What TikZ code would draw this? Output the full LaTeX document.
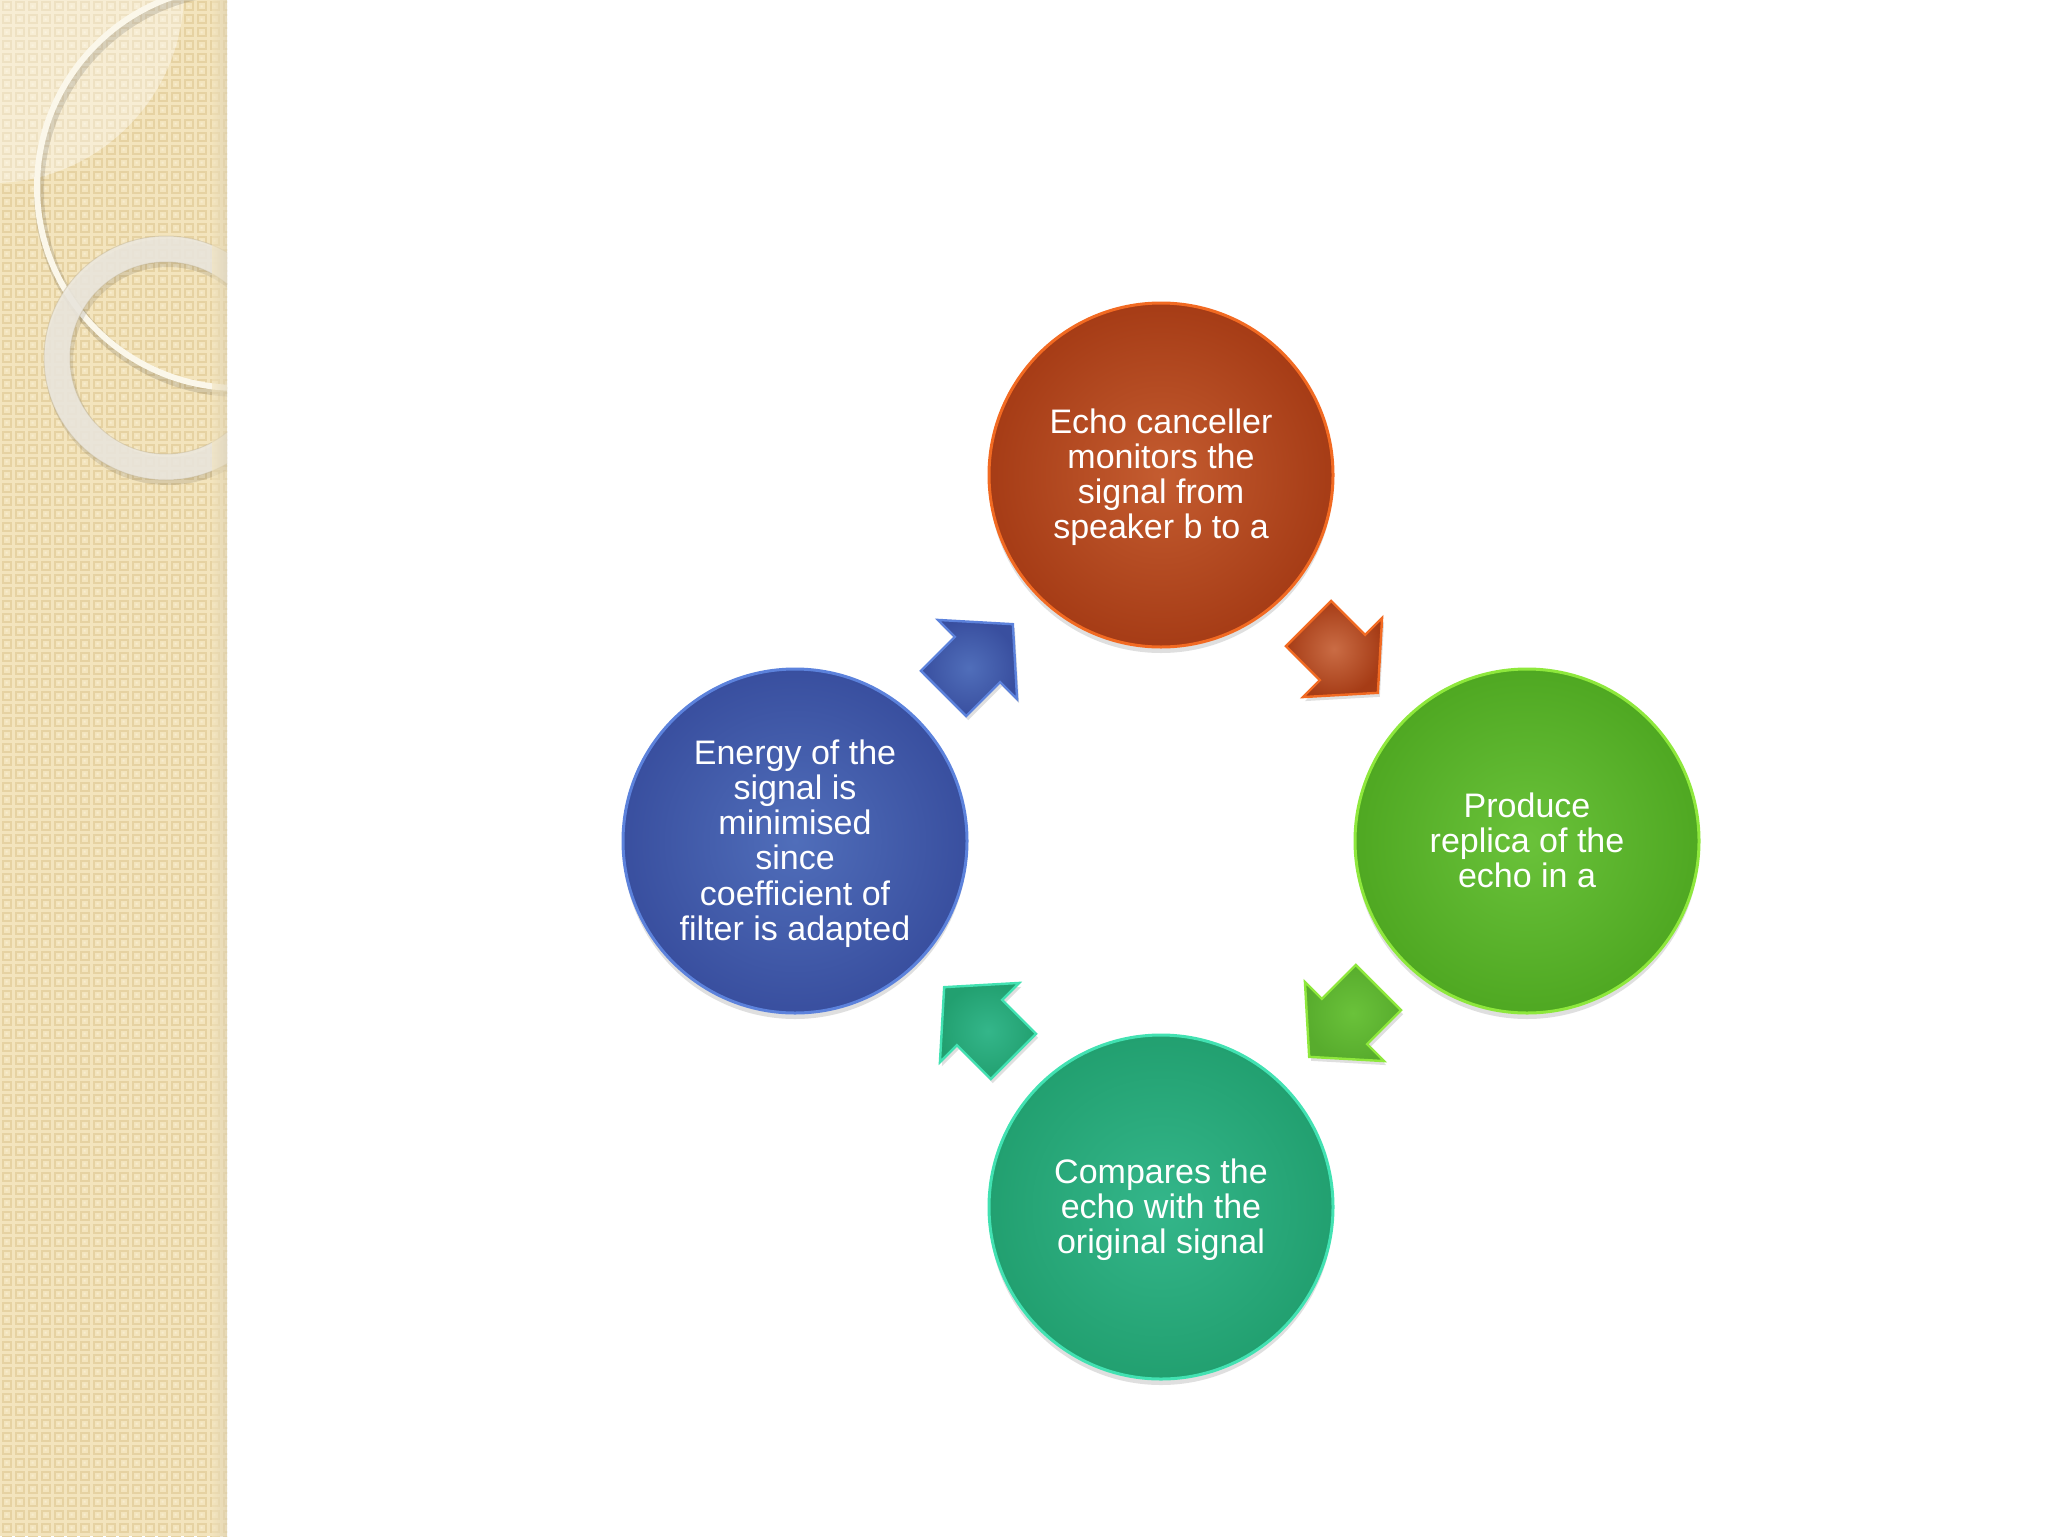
\documentclass[tikz,border=0pt]{standalone}
\usepackage{fontspec}
\setmainfont{Liberation Sans}
\usetikzlibrary{shadows}
\definecolor{sideA}{HTML}{F3E4BD}
\definecolor{sideB}{HTML}{E6D2A2}
\definecolor{sideC}{HTML}{F8EDCF}
\definecolor{ringT}{HTML}{FBF7EA}
\definecolor{ringK}{HTML}{ECE8DF}
\definecolor{oIn}{HTML}{C45C30}
\definecolor{oOut}{HTML}{A63C16}
\definecolor{oEdge}{HTML}{F26A22}
\definecolor{gIn}{HTML}{6AC23A}
\definecolor{gOut}{HTML}{4FA822}
\definecolor{gEdge}{HTML}{8EE83C}
\definecolor{tIn}{HTML}{34B68A}
\definecolor{tOut}{HTML}{22A070}
\definecolor{tEdge}{HTML}{42E2B2}
\definecolor{bIn}{HTML}{506EBA}
\definecolor{bOut}{HTML}{394F9F}
\definecolor{bEdge}{HTML}{5C82DC}
\tikzset{
  bubble/.style={circle, minimum size=172pt, inner sep=0pt, line width=1.5pt,
    drop shadow={opacity=0.25, shadow xshift=0pt, shadow yshift=-3pt}},
  bubbletext/.style={text=white, align=center, inner sep=0pt, yshift=-1.2pt,
    font=\fontsize{17pt}{17.6pt}\selectfont},
  blockarrow/.style={line width=1.2pt, line join=miter,
    drop shadow={opacity=0.25, shadow xshift=1pt, shadow yshift=-2pt}}
}
\newcommand{\arrowshape}{(-36,-32) -- (12,-32) -- (12,-56) -- (62,0) -- (12,56) -- (12,32) -- (-36,32) -- cycle}
\begin{document}
\begin{tikzpicture}[x=0.5pt,y=-0.5pt]
\useasboundingbox (0,0) rectangle (2048,1536);
\fill[white] (0,0) rectangle (2048,1536);
% sidebar
\begin{scope}
\clip (0,0) rectangle (227,1536);
\fill[sideA] (0,0) rectangle (227,1536);
\draw[sideB, line width=1pt] foreach \i in {0,...,17} { foreach \j in {0,...,118} { (\i*13+2.5,\j*13+2.5) rectangle +(8,8) } };
\fill[sideC] foreach \i in {0,...,17} { foreach \j in {0,...,118} { (\i*13+5.5,\j*13+5.5) rectangle +(2,2) } };
\fill[white, opacity=0.35] (-8,-9) circle (192);
\draw[black, opacity=0.12, line width=5pt] (240,191) circle (201);
\draw[ringT, line width=3pt] (238,187) circle (201);
\draw[black, opacity=0.10, line width=14pt] (168,362) circle (109);
\draw[ringK, opacity=0.88, line width=13pt] (166,358) circle (109);
\draw[sideB!80!black, opacity=0.35, line width=0.5pt] (166,358) circle (122) (166,358) circle (96);
\shade[left color=sideA, right color=sideA!80!gray, opacity=0.6] (212,0) rectangle (227,1536);
\end{scope}
% circles
\node[bubble, shade, inner color=oIn, outer color=oOut, draw=oEdge] (c1) at (1161,475) {};
\node[bubble, shade, inner color=gIn, outer color=gOut, draw=gEdge] (c2) at (1527,841) {};
\node[bubble, shade, inner color=tIn, outer color=tOut, draw=tEdge] (c3) at (1161,1207) {};
\node[bubble, shade, inner color=bIn, outer color=bOut, draw=bEdge] (c4) at (795,841) {};
\node[bubbletext] (t1) at (c1.center) {Echo canceller\\monitors the\\signal from\\speaker b to a};
\node[bubbletext, yshift=1.5pt] (t2) at (c2.center) {Produce\\replica of the\\echo in a};
\node[bubbletext] (t3) at (c3.center) {Compares the\\echo with the\\original signal};
\node[bubbletext] (t4) at (c4.center) {Energy of the\\signal is\\minimised\\since\\coefficient of\\filter is adapted};
% arrows
\begin{scope}[shift={(1334,649)}, rotate=-45]
\shade[blockarrow, inner color=oIn!90!white, outer color=oOut, draw=oEdge] \arrowshape;
\end{scope}
\begin{scope}[shift={(1353,1013)}, rotate=-135]
\shade[blockarrow, inner color=gIn, outer color=gOut!95!white, draw=gEdge] \arrowshape;
\end{scope}
\begin{scope}[shift={(988,1031)}, rotate=135]
\shade[blockarrow, inner color=tIn, outer color=tOut, draw=tEdge] \arrowshape;
\end{scope}
\begin{scope}[shift={(969,668)}, rotate=45]
\shade[blockarrow, inner color=bIn, outer color=bOut, draw=bEdge] \arrowshape;
\end{scope}
\end{tikzpicture}
\end{document}
